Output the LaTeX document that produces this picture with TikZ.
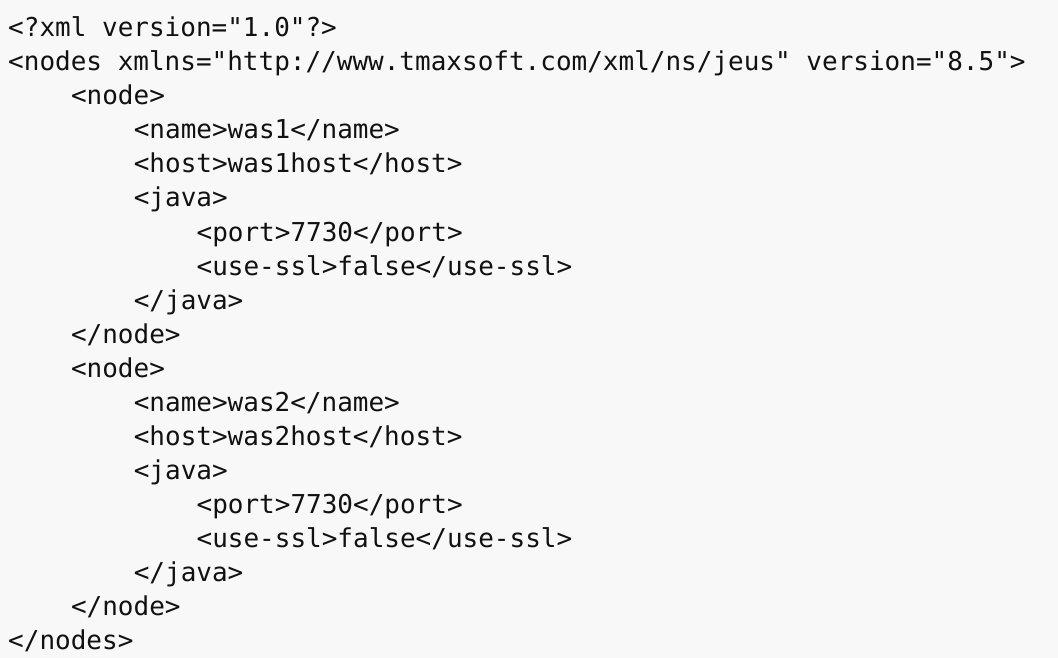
\documentclass[tikz,border=0pt]{standalone}
\usepackage{fontspec}
\setmonofont{DejaVu Sans Mono}
\definecolor{bg}{HTML}{F8F8F8}
\definecolor{ink}{HTML}{111111}
\begin{document}
\begin{tikzpicture}[x=1pt,y=-1pt,
  codeline/.style={anchor=base west,inner sep=0pt,text=ink,font=\fontsize{26}{30}\ttfamily}]
\fill[bg] (0,0) rectangle (1058,658);
\useasboundingbox (0,0) rectangle (1058,658);
\def\cw{15.7}
\foreach \i/\ind/\txt [count=\n] in {
 0/0/{<?xml version="1.0"?>},
 1/0/{<nodes xmlns="http://www.tmaxsoft.com/xml/ns/jeus" version="8.5">},
 2/1/{<node>},
 3/2/{<name>was1</name>},
 4/2/{<host>was1host</host>},
 5/2/{<java>},
 6/3/{<port>7730</port>},
 7/3/{<use-ssl>false</use-ssl>},
 8/2/{</java>},
 9/1/{</node>},
 10/1/{<node>},
 11/2/{<name>was2</name>},
 12/2/{<host>was2host</host>},
 13/2/{<java>},
 14/3/{<port>7730</port>},
 15/3/{<use-ssl>false</use-ssl>},
 16/2/{</java>},
 17/1/{</node>},
 18/0/{</nodes>}}
 \node[codeline] (l\n) at ({8+4*\cw*\ind},{37+34*\i}) {\txt};
\end{tikzpicture}
\end{document}
